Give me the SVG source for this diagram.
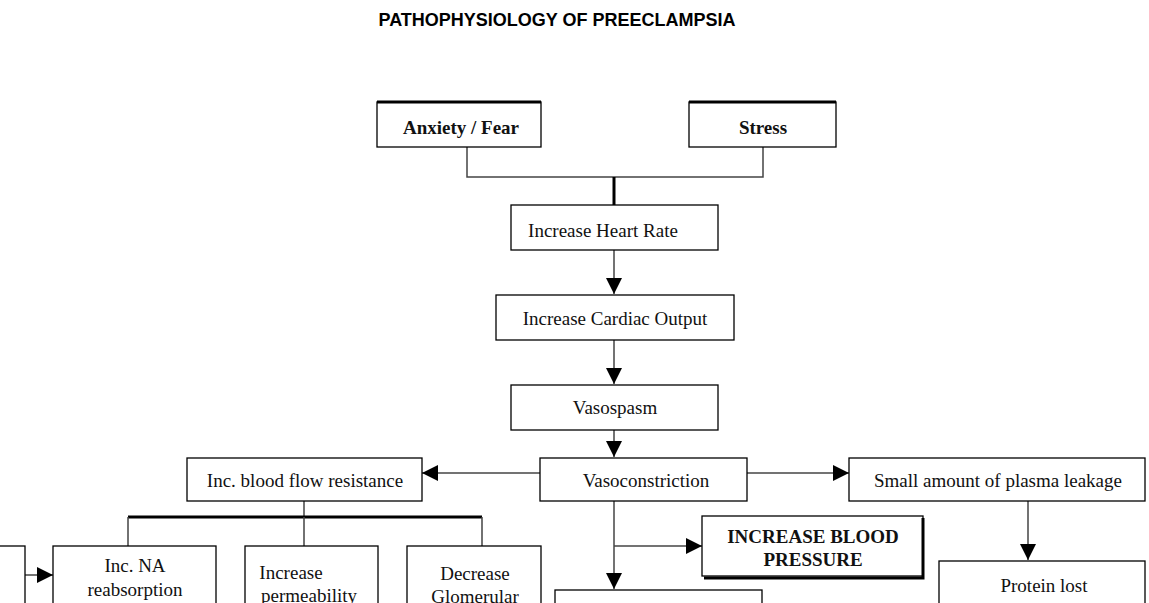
<svg xmlns="http://www.w3.org/2000/svg" width="1149" height="603" viewBox="0 0 1149 603">
<defs>
<marker id="ah" markerWidth="16" markerHeight="18" refX="16" refY="8" orient="auto" markerUnits="userSpaceOnUse"><path d="M0,0 L16,8 L0,16 Z" fill="#000"/></marker>
<style>
.b{fill:#fff;stroke:#000;stroke-width:1.3}
.t{font-family:"Liberation Serif",serif;font-size:19px;text-anchor:middle;fill:#111}
.tb{font-family:"Liberation Serif",serif;font-size:19px;font-weight:bold;text-anchor:middle;fill:#111}
.c{fill:none;stroke:#444;stroke-width:1.5}
.k{fill:none;stroke:#000;stroke-width:3}
</style>
</defs>
<rect width="1149" height="603" fill="#fff"/>
<text x="557" y="26" font-family="Liberation Sans,sans-serif" font-size="18" font-weight="bold" text-anchor="middle">PATHOPHYSIOLOGY OF PREECLAMPSIA</text>
<g id="connectors">
<path class="c" d="M467,147 V177 H763 V147"/>
<path class="k" d="M614,177 V205"/>
<path class="c" d="M614,250 V294" marker-end="url(#ah)"/>
<path class="c" d="M614,340 V384" marker-end="url(#ah)"/>
<path class="c" d="M614,430 V457" marker-end="url(#ah)"/>
<path class="c" d="M540,473 H422" marker-end="url(#ah)"/>
<path class="c" d="M747,473 H849" marker-end="url(#ah)"/>
<path class="c" d="M304,501 V517"/>
<path class="k" d="M128,517 H482"/>
<path class="c" d="M128,517 V546 M304,517 V546 M482,517 V546"/>
<path class="c" d="M25,575 H53" marker-end="url(#ah)"/>
<path class="c" d="M614,501 V589" marker-end="url(#ah)"/>
<path class="c" d="M614,546 H702" marker-end="url(#ah)"/>
<path class="c" d="M1028,501 V560" marker-end="url(#ah)"/>
</g>
<g id="anxiety"><rect class="b" x="377" y="102" width="164" height="45"/><path class="k" d="M377,102 H541"/><text class="tb" x="461" y="134">Anxiety / Fear</text></g>
<g id="stress"><rect class="b" x="689" y="102" width="147" height="45"/><path class="k" d="M689,102 H836"/><text class="tb" x="763" y="134">Stress</text></g>
<g id="heartrate"><rect class="b" x="511" y="205" width="207" height="45"/><text class="t" x="603" y="237">Increase Heart Rate</text></g>
<g id="cardiac"><rect class="b" x="496" y="295" width="238" height="45"/><text class="t" x="615" y="325">Increase Cardiac Output</text></g>
<g id="vasospasm"><rect class="b" x="511" y="385" width="207" height="45"/><text class="t" x="615" y="414">Vasospasm</text></g>
<g id="vasoconstriction"><rect class="b" x="540" y="458" width="207" height="43"/><text class="t" x="646" y="487">Vasoconstriction</text></g>
<g id="bloodflow"><rect class="b" x="187" y="458" width="235" height="43"/><text class="t" x="305" y="487">Inc. blood flow resistance</text></g>
<g id="plasma"><rect class="b" x="849" y="458" width="296" height="43"/><text class="t" x="998" y="487">Small amount of plasma leakage</text></g>
<g id="left"><rect class="b" x="-5" y="546" width="30" height="70"/></g>
<g id="na"><rect class="b" x="53" y="546" width="163" height="70"/><text class="t" x="135" y="572">Inc. NA</text><text class="t" x="135" y="596">reabsorption</text></g>
<g id="perm"><rect class="b" x="245" y="546" width="133" height="70"/><text class="t" x="291" y="579">Increase</text><text class="t" x="309" y="602">permeability</text></g>
<g id="glom"><rect class="b" x="407" y="546" width="134" height="70"/><text class="t" x="475" y="580">Decrease</text><text class="t" x="475" y="603">Glomerular</text></g>
<g id="bp"><rect x="702" y="516" width="221" height="60" fill="#fff" stroke="#000" stroke-width="1.3"/><path d="M923,518 V578 H704" fill="none" stroke="#000" stroke-width="3"/><text class="tb" x="813" y="543">INCREASE BLOOD</text><text class="tb" x="813" y="566">PRESSURE</text></g>
<g id="below"><rect class="b" x="555" y="590" width="207" height="30"/></g>
<g id="protein"><rect class="b" x="939" y="561" width="206" height="55"/><text class="t" x="1044" y="592">Protein lost</text></g>
</svg>
